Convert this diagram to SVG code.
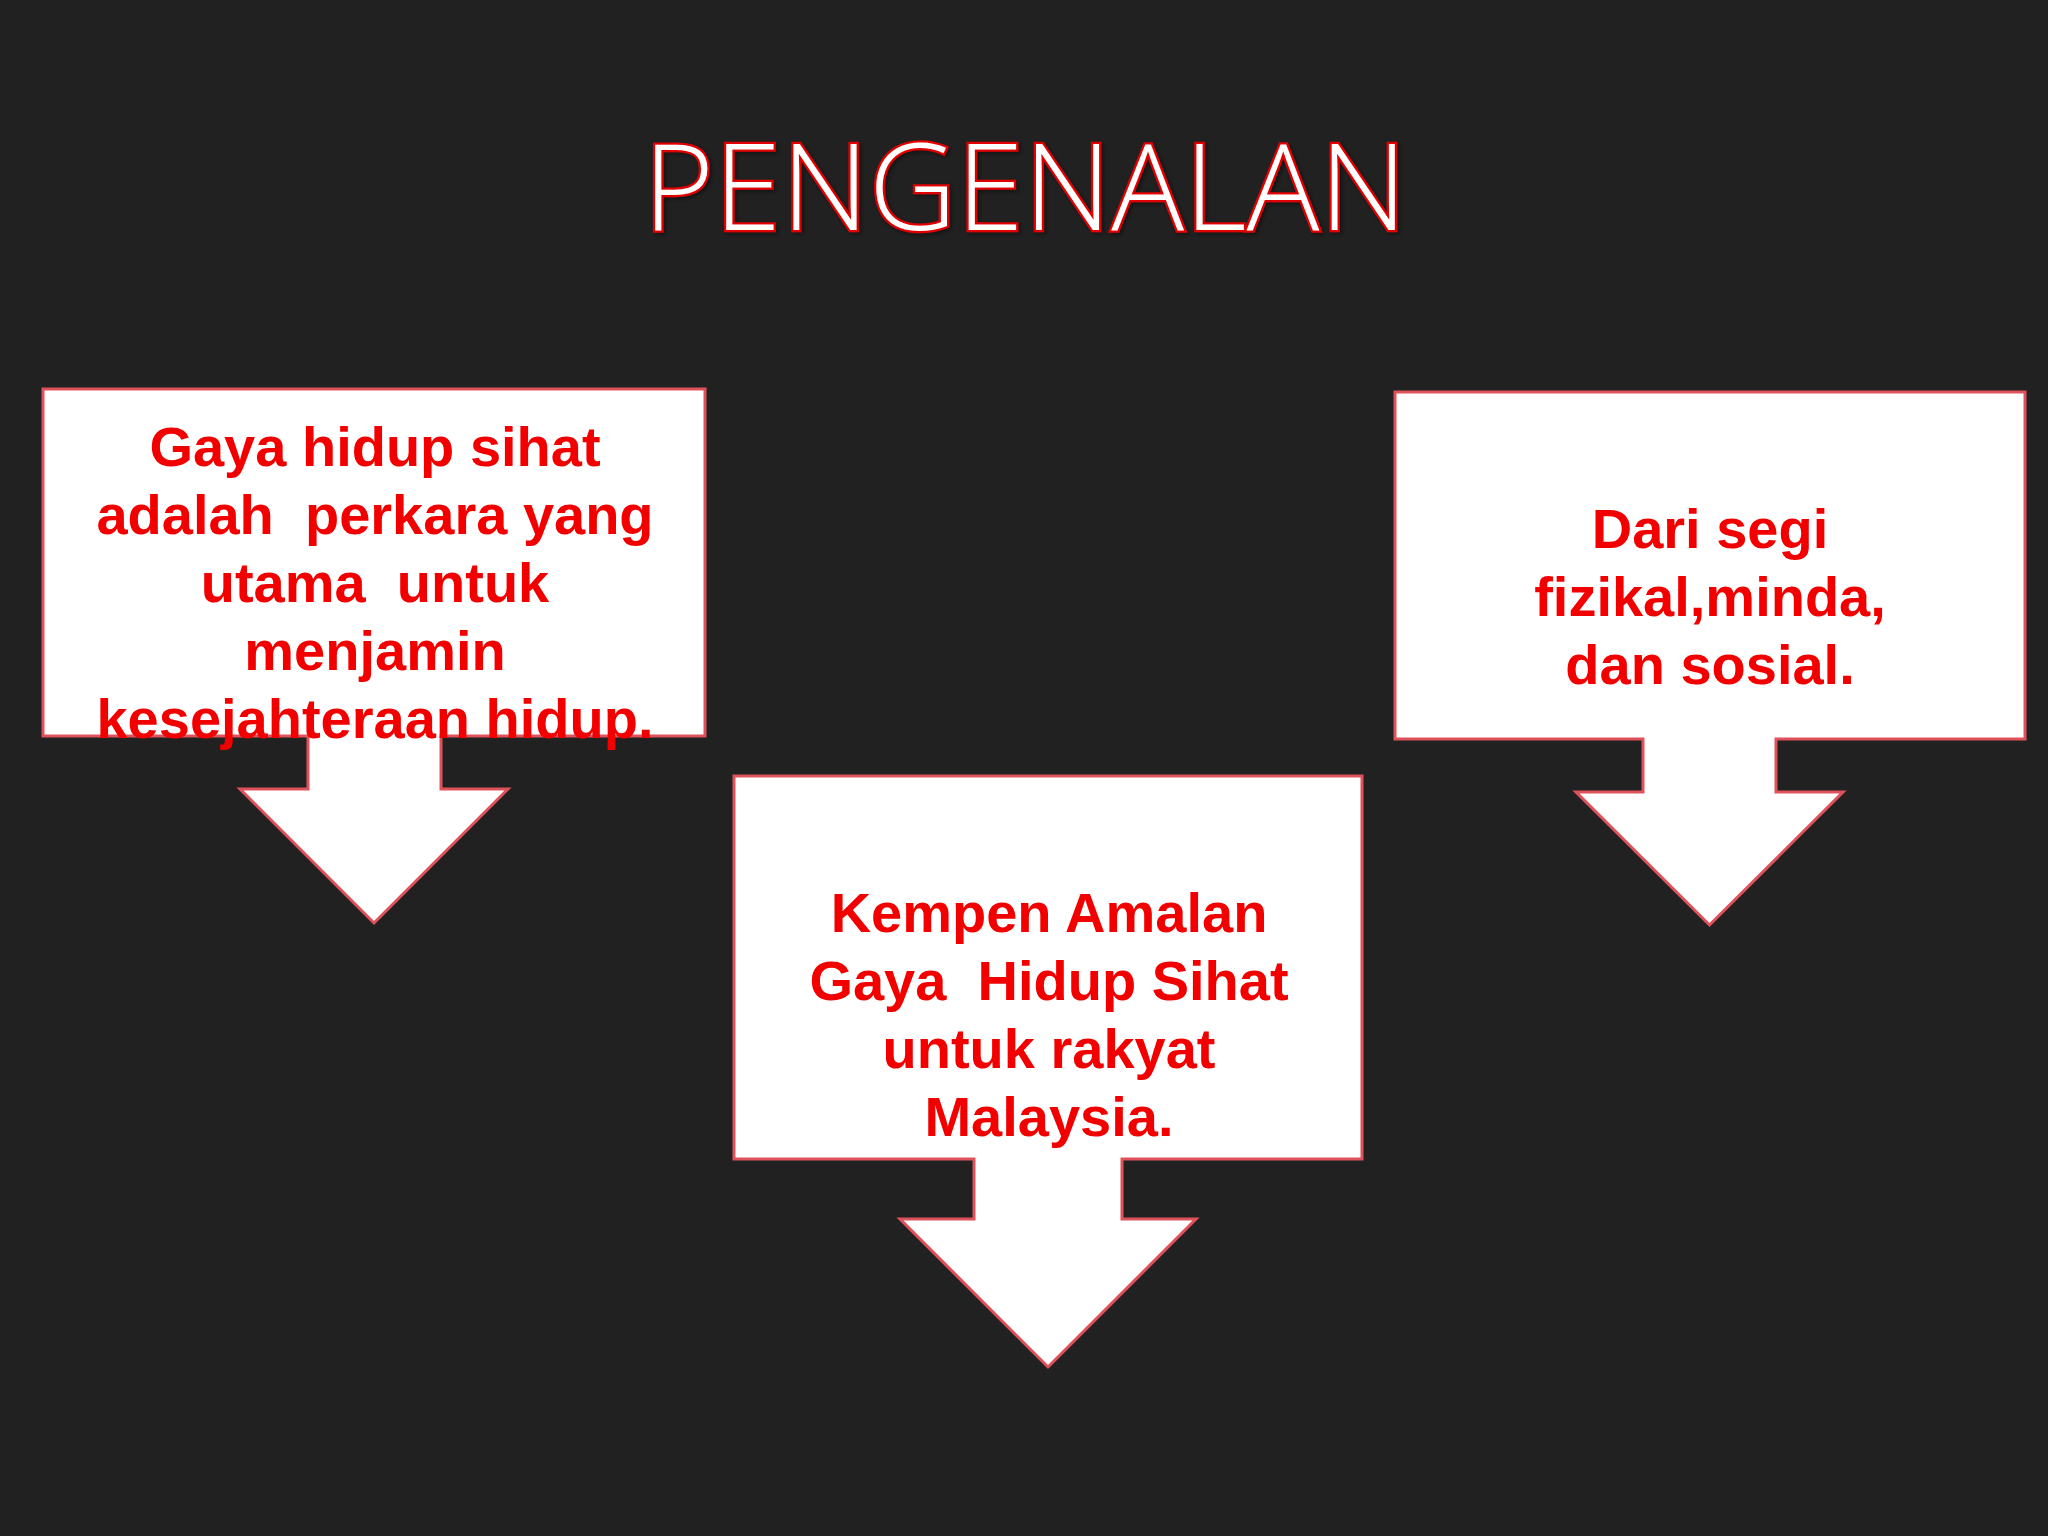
<svg xmlns="http://www.w3.org/2000/svg" width="2048" height="1536" viewBox="0 0 2048 1536">
  <defs>
    <style>
      .callout { fill: #ffffff; stroke: #e0525b; stroke-width: 3; stroke-linejoin: miter; }
      .label { font-family: "Liberation Sans", Arial, sans-serif; font-weight: bold; font-size: 56px; fill: #f20000; text-anchor: middle; white-space: pre; }
      .title { font-family: "Open Sans", "Noto Sans", sans-serif; font-weight: 300; font-size: 120px; fill: #ffffff; stroke: #e00000; stroke-width: 4.5; paint-order: stroke; text-anchor: middle; }
    </style>
    <filter id="shadow" x="-10%" y="-30%" width="120%" height="160%">
      <feDropShadow dx="2" dy="2" stdDeviation="2" flood-color="#000000" flood-opacity="0.45"/>
    </filter>
  </defs>
  <rect x="0" y="0" width="2048" height="1536" fill="#212121"/>

  <g id="title">
    <text class="title" x="1025" y="230" textLength="764" lengthAdjust="spacingAndGlyphs" filter="url(#shadow)">PENGENALAN</text>
  </g>

  <g id="node-gaya-hidup">
    <path class="callout" d="M43,389 H705 V736 H441 V789 H508 L374,923 L240,789 H308 V736 H43 Z"/>
    <text class="label" x="375" y="466">Gaya hidup sihat</text>
    <text class="label" x="375" y="534">adalah  perkara yang</text>
    <text class="label" x="375" y="602">utama  untuk</text>
    <text class="label" x="375" y="670">menjamin</text>
    <text class="label" x="375" y="738">kesejahteraan hidup.</text>
  </g>

  <g id="node-dari-segi">
    <path class="callout" d="M1395,392 H2025 V739 H1776 V792 H1843 L1709.5,925 L1576,792 H1643 V739 H1395 Z"/>
    <text class="label" x="1710" y="548">Dari segi</text>
    <text class="label" x="1710" y="616">fizikal,minda,</text>
    <text class="label" x="1710" y="684">dan sosial.</text>
  </g>

  <g id="node-kempen">
    <path class="callout" d="M734,776 H1362 V1159 H1122 V1219 H1196 L1048,1367 L900,1219 H974 V1159 H734 Z"/>
    <text class="label" x="1049" y="932">Kempen Amalan</text>
    <text class="label" x="1049" y="1000">Gaya  Hidup Sihat</text>
    <text class="label" x="1049" y="1068">untuk rakyat</text>
    <text class="label" x="1049" y="1136">Malaysia.</text>
  </g>

  <g id="connectors"></g>
</svg>
